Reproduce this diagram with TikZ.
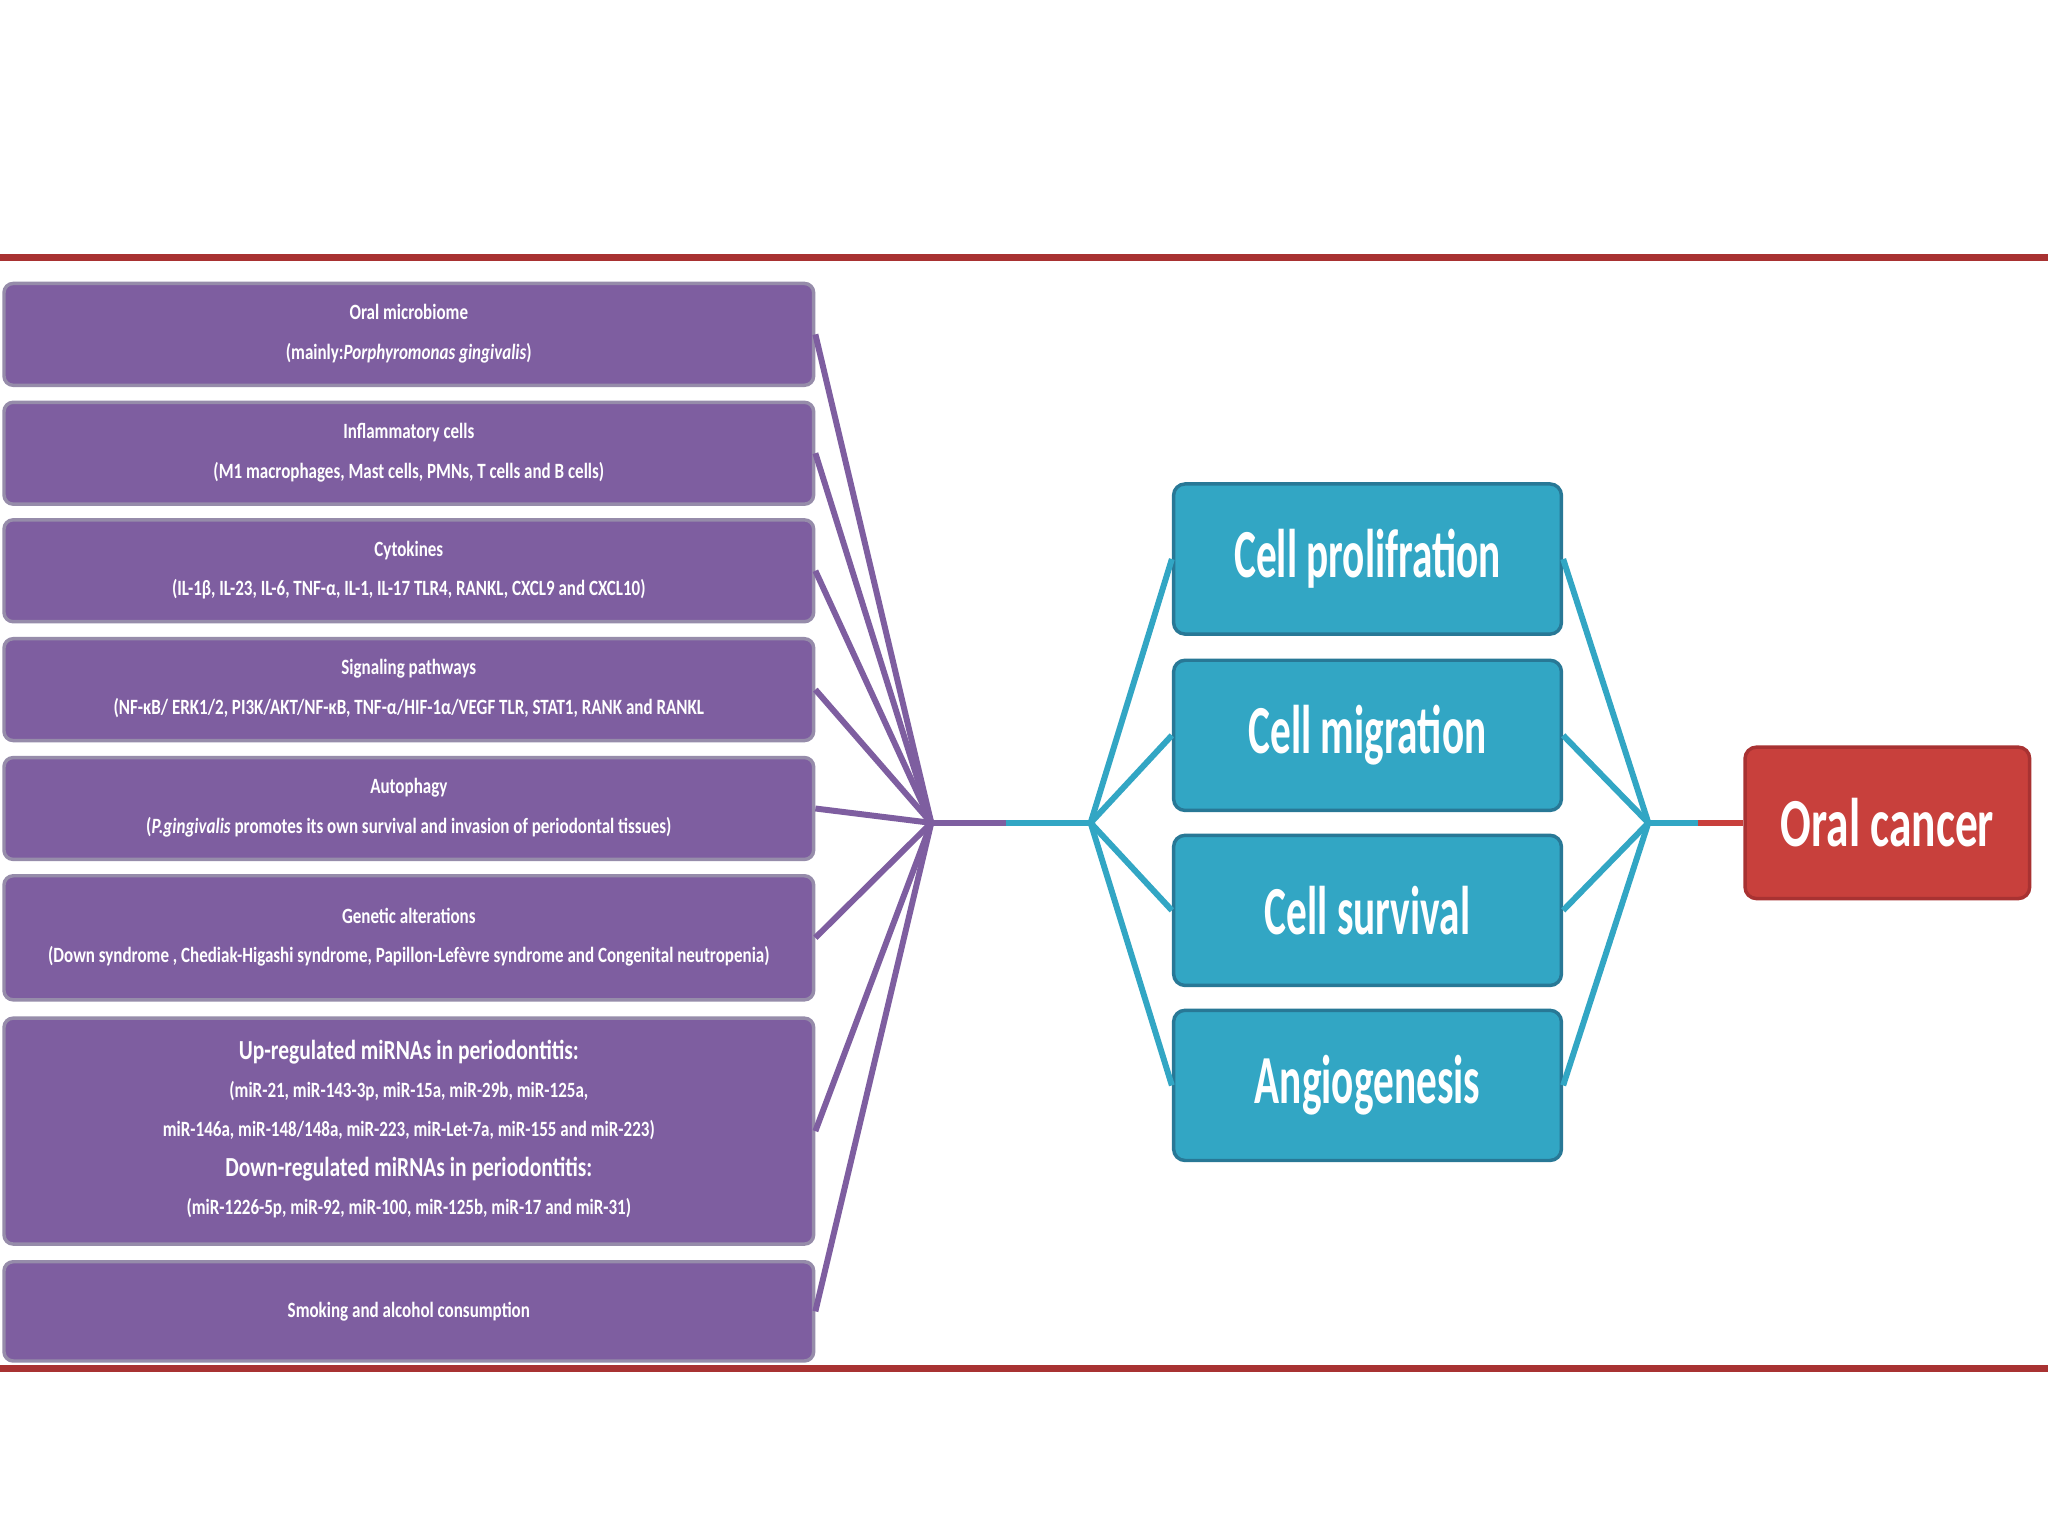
\documentclass[tikz,border=0pt]{standalone}
\usepackage{fontspec}
\setmainfont{Carlito}
\usepackage{graphicx}
\definecolor{pur}{RGB}{126,94,160}
\definecolor{purb}{RGB}{150,140,170}
\definecolor{tea}{RGB}{50,166,196}
\definecolor{teab}{RGB}{40,120,150}
\definecolor{rbox}{RGB}{200,64,60}
\definecolor{rline}{RGB}{168,50,50}
\newcommand\twol[2]{\scalebox{0.78}[1]{\begin{tabular}{@{}c@{}}#1\\[0.22cm]#2\end{tabular}}}
\newcommand\bigt[1]{\scalebox{0.6}[1]{#1}}
\begin{document}
\begin{tikzpicture}[x=0.02cm,y=-0.02cm,
  pbox/.style={draw=purb,line width=1.5pt,fill=pur,rounded corners=4pt,text=white,
    minimum width=12.4cm,inner sep=0pt,font=\fontsize{9.5}{11}\selectfont\bfseries},
  tbox/.style={draw=teab,line width=1.5pt,fill=tea,rounded corners=5pt,text=white,
    minimum width=5.94cm,minimum height=2.3cm,inner sep=0pt,font=\fontsize{30}{32}\selectfont\bfseries},
  pl/.style={draw=pur,line width=2.6pt},
  tl/.style={draw=tea,line width=2.6pt}]
\useasboundingbox (0,0) rectangle (1568,1176);
\fill[white] (0,0) rectangle (1568,1176);
\draw[rline,line width=3pt] (0,197) -- (1568,197);
\draw[rline,line width=3pt] (0,1048) -- (1568,1048);
\node[pbox,minimum height=1.56cm] (b1) at (313,256) {\twol{Oral microbiome}{(mainly:\textit{Porphyromonas gingivalis})}};
\node[pbox,minimum height=1.56cm] (b2) at (313,347) {\twol{Inflammatory cells}{(M1 macrophages, Mast cells, PMNs, T cells and B cells)}};
\node[pbox,minimum height=1.56cm] (b3) at (313,437) {\twol{Cytokines}{(IL-1β, IL-23, IL-6, TNF-α, IL-1, IL-17 TLR4, RANKL, CXCL9 and CXCL10)}};
\node[pbox,minimum height=1.56cm] (b4) at (313,528) {\twol{Signaling pathways}{(NF-κB/ ERK1/2, PI3K/AKT/NF-κB, TNF-α/HIF-1α/VEGF TLR, STAT1, RANK and RANKL}};
\node[pbox,minimum height=1.56cm] (b5) at (313,619) {\twol{Autophagy}{(\textit{P.gingivalis} promotes its own survival and invasion of periodontal tissues)}};
\node[pbox,minimum height=1.9cm] (b6) at (313,718) {\twol{Genetic alterations}{(Down syndrome , Chediak-Higashi syndrome, Papillon-Lefèvre syndrome and Congenital neutropenia)}};
\node[pbox,minimum height=3.46cm] (b7) at (313,866) {\scalebox{0.78}[1]{\begin{tabular}{@{}c@{}}{\fontsize{12}{14}\selectfont Up-regulated miRNAs in periodontitis:}\\[0.2cm]
(miR-21, miR-143-3p, miR-15a, miR-29b, miR-125a,\\[0.2cm]
miR-146a, miR-148/148a, miR-223, miR-Let-7a, miR-155 and miR-223)\\[0.2cm]
{\fontsize{12}{14}\selectfont Down-regulated miRNAs in periodontitis:}\\[0.2cm]
(miR-1226-5p, miR-92, miR-100, miR-125b, miR-17 and miR-31)\end{tabular}}};
\node[pbox,minimum height=1.52cm] (b8) at (313,1004) {\scalebox{0.78}[1]{Smoking and alcohol consumption}};
\node[tbox] (c1) at (1047,428) {\bigt{Cell prolifration}};
\node[tbox] (c2) at (1047,563) {\bigt{Cell migration}};
\node[tbox] (c3) at (1047,697) {\bigt{Cell survival}};
\node[tbox] (c4) at (1047,831) {\bigt{Angiogenesis}};
\node[draw=rline,line width=1.5pt,fill=rbox,rounded corners=5pt,text=white,minimum width=4.36cm,minimum height=2.32cm,inner sep=0pt,font=\fontsize{30}{32}\selectfont\bfseries] (oc) at (1445,630) {\scalebox{0.66}[1]{Oral cancer}};
\coordinate (hl) at (713,630);
\coordinate (hm) at (770,630);
\coordinate (ht) at (835,630);
\coordinate (hr) at (1262,630);
\coordinate (hrm) at (1300,630);
\foreach \i in {1,...,8} \draw[pl] (b\i.east) -- (hl);
\draw[pl] (hl) -- (hm);
\draw[tl] (hm) -- (ht);
\foreach \i in {1,...,4} {\draw[tl] (ht) -- (c\i.west); \draw[tl] (c\i.east) -- (hr);}
\draw[tl] (hr) -- (hrm);
\draw[draw=rbox,line width=2.6pt] (hrm) -- (oc.west);
\end{tikzpicture}
\end{document}
